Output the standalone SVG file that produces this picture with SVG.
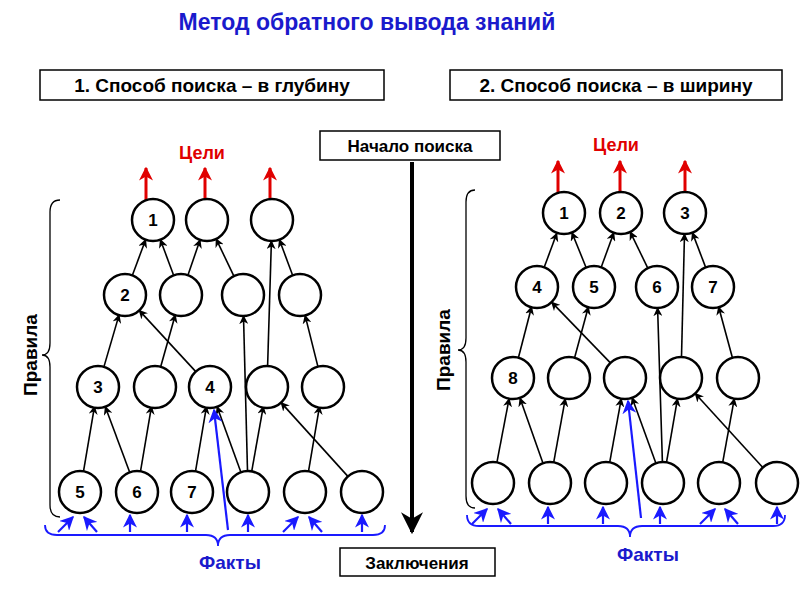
<svg xmlns="http://www.w3.org/2000/svg" width="800" height="600" viewBox="0 0 800 600">
<style>
.n circle{fill:#fff;stroke:#000;stroke-width:2.5}
.n text,.lbl{font-family:"Liberation Sans",Arial,sans-serif;font-weight:bold}
.n text{font-size:17px;text-anchor:middle}
.e line{stroke:#000;stroke-width:1.6;marker-end:url(#ah)}
.f line{stroke:#1a1aff;stroke-width:2.2;marker-end:url(#bh)}
.g line{stroke:#e00000;stroke-width:3;marker-end:url(#rh)}
.box{fill:#fff;stroke:#000;stroke-width:1.5}
.br{fill:none;stroke:#000;stroke-width:1.3}
.bb{fill:none;stroke:#1a1aff;stroke-width:1.8}
</style>
<defs>
<marker id="ah" viewBox="0 0 10 10" refX="9" refY="5" markerWidth="9" markerHeight="9" markerUnits="userSpaceOnUse" orient="auto"><path d="M0,0 L10,5 L0,10 L3,5 Z" fill="#000"/></marker>
<marker id="bh" viewBox="0 0 10 10" refX="9" refY="5" markerWidth="14" markerHeight="14" markerUnits="userSpaceOnUse" orient="auto"><path d="M0,0 L10,5 L0,10 L3,5 Z" fill="#1a1aff"/></marker>
<marker id="rh" viewBox="0 0 10 10" refX="9" refY="5" markerWidth="14" markerHeight="14" markerUnits="userSpaceOnUse" orient="auto"><path d="M0,0 L10,5 L0,10 L3,5 Z" fill="#e00000"/></marker>
<marker id="kh" viewBox="0 0 10 10" refX="9" refY="5" markerWidth="22" markerHeight="22" markerUnits="userSpaceOnUse" orient="auto"><path d="M0,0 L10,5 L0,10 L3,5 Z" fill="#000"/></marker>
</defs>
<text class="lbl" x="367" y="30" font-size="23" fill="#1a1acc" text-anchor="middle">Метод обратного вывода знаний</text>
<g id="hdr1"><rect class="box" x="40" y="70" width="344" height="30"/><text class="lbl" x="212" y="92" font-size="19" text-anchor="middle">1. Способ поиска – в глубину</text></g>
<g id="hdr2"><rect class="box" x="450" y="70" width="332" height="30"/><text class="lbl" x="616" y="92" font-size="19" text-anchor="middle">2. Способ поиска – в ширину</text></g>
<g id="start"><rect class="box" x="320" y="131" width="180" height="29"/><text class="lbl" x="410" y="152" font-size="17" text-anchor="middle">Начало поиска</text></g>
<g id="end"><rect class="box" x="340" y="548" width="155" height="28"/><text class="lbl" x="417" y="569" font-size="17" text-anchor="middle">Заключения</text></g>
<line x1="412" y1="162" x2="412" y2="532" stroke="#000" stroke-width="4" marker-end="url(#kh)"/>
<text class="lbl" x="202" y="159" font-size="18" fill="#e00000" text-anchor="middle">Цели</text>
<text class="lbl" x="616" y="151" font-size="18" fill="#e00000" text-anchor="middle">Цели</text>
<text class="lbl" x="230" y="569" font-size="19" fill="#1a1acc" text-anchor="middle">Факты</text>
<text class="lbl" x="648" y="561" font-size="19" fill="#1a1acc" text-anchor="middle">Факты</text>
<text class="lbl" font-size="19" text-anchor="middle" transform="translate(37,355) rotate(-90)">Правила</text>
<text class="lbl" font-size="19" text-anchor="middle" transform="translate(450,350) rotate(-90)">Правила</text>
<path class="br" d="M60,200 Q50,200 50,212 L50,343 Q50,355 42,355 Q50,355 50,367 L50,505 Q50,517 60,517"/>
<path class="br" d="M475,190 Q466,190 466,202 L466,338 Q466,350 458,350 Q466,350 466,362 L466,496 Q466,508 475,508"/>
<path class="bb" d="M45,525 Q45,535 57,535 L206,535 Q218,535 218,546 Q218,535 230,535 L373,535 Q385,535 385,525"/>
<path class="bb" d="M467,515 Q467,526 479,526 L618,526 Q630,526 630,537 Q630,526 642,526 L773,526 Q785,526 785,515"/>
<g id="connectors">
<g class="g">
<line x1="146" y1="200" x2="146" y2="168"/><line x1="205" y1="200" x2="205" y2="168"/><line x1="270" y1="200" x2="270" y2="168"/>
<line x1="558" y1="193" x2="558" y2="161"/><line x1="620" y1="193" x2="620" y2="161"/><line x1="685" y1="193" x2="685" y2="161"/>
</g>
<g class="e">
<line x1="132.4" y1="275.3" x2="145.6" y2="239.7"/><line x1="173.6" y1="275.3" x2="160.4" y2="239.7"/>
<line x1="187.9" y1="275.2" x2="200.1" y2="239.8"/><line x1="233.9" y1="276.1" x2="216.1" y2="238.9"/>
<line x1="267.6" y1="366" x2="271.4" y2="241"/><line x1="292.6" y1="275.3" x2="279.4" y2="239.7"/>
<line x1="103.9" y1="366.9" x2="119.1" y2="314.9"/><line x1="195.8" y1="371.6" x2="139.2" y2="310.4"/>
<line x1="160.7" y1="366.8" x2="175.3" y2="314.8"/><line x1="247.5" y1="471" x2="243.5" y2="316"/>
<line x1="317.9" y1="366.6" x2="305.1" y2="315.4"/><line x1="83.5" y1="471.3" x2="94.5" y2="406.3"/>
<line x1="129.7" y1="472.3" x2="105.3" y2="406.7"/><line x1="140.5" y1="471.3" x2="151.5" y2="406.3"/>
<line x1="195.5" y1="471.3" x2="206.5" y2="406.3"/><line x1="240.9" y1="472.3" x2="217.1" y2="406.7"/>
<line x1="251.7" y1="471.3" x2="263.3" y2="406.3"/><line x1="347.9" y1="476.4" x2="281.1" y2="402.6"/>
<line x1="308.5" y1="471.3" x2="319.5" y2="406.3"/>
<line x1="544.2" y1="267.3" x2="556.8" y2="233.3"/><line x1="586.1" y1="267.5" x2="571.9" y2="232.5"/>
<line x1="601.2" y1="267.3" x2="613.8" y2="232.7"/><line x1="647.8" y1="268.1" x2="630.2" y2="231.9"/>
<line x1="681.5" y1="357" x2="684.5" y2="234"/><line x1="705.6" y1="267.4" x2="692.4" y2="232.6"/>
<line x1="518.4" y1="357.7" x2="531.6" y2="306.7"/><line x1="610.4" y1="362.9" x2="551.6" y2="302.1"/>
<line x1="574.6" y1="357.8" x2="588.4" y2="306.8"/><line x1="662.4" y1="462" x2="657.6" y2="308"/>
<line x1="732.4" y1="357.8" x2="718.6" y2="306.8"/><line x1="496.9" y1="462.4" x2="509.1" y2="398.6"/>
<line x1="543" y1="463.2" x2="520" y2="398.2"/><line x1="553.7" y1="462.3" x2="565.3" y2="398.7"/>
<line x1="609.7" y1="462.3" x2="621.3" y2="398.7"/><line x1="655.9" y1="463.3" x2="632.1" y2="397.7"/>
<line x1="666.5" y1="462.3" x2="677.5" y2="398.7"/><line x1="762.8" y1="467.5" x2="695.2" y2="393.5"/>
<line x1="722.7" y1="462.3" x2="734.3" y2="398.7"/>
</g>
<g class="f">
<line x1="58" y1="532" x2="73" y2="517"/><line x1="97" y1="532" x2="84" y2="517"/>
<line x1="130" y1="532" x2="130" y2="515"/><line x1="187" y1="532" x2="187" y2="515"/>
<line x1="248" y1="532" x2="248" y2="515"/><line x1="283" y1="532" x2="298" y2="517"/>
<line x1="322" y1="532" x2="309" y2="517"/><line x1="362" y1="532" x2="362" y2="515"/>
<line x1="472" y1="524" x2="487" y2="509"/><line x1="511" y1="524" x2="498" y2="509"/>
<line x1="548" y1="524" x2="548" y2="507"/><line x1="603" y1="524" x2="603" y2="507"/>
<line x1="660" y1="524" x2="660" y2="507"/><line x1="700" y1="524" x2="715" y2="509"/>
<line x1="738" y1="524" x2="725" y2="509"/><line x1="777" y1="524" x2="777" y2="507"/>
<line x1="228" y1="530" x2="214" y2="410" stroke-width="3"/>
<line x1="641" y1="518" x2="628" y2="401" stroke-width="3"/>
</g>
</g>
<g id="L1a" class="n"><circle cx="153" cy="220" r="21"/><text x="153" y="226">1</text></g>
<g id="L1b" class="n"><circle cx="207" cy="220" r="21"/></g>
<g id="L1c" class="n"><circle cx="272" cy="220" r="21"/></g>
<g id="L2a" class="n"><circle cx="125" cy="295" r="21"/><text x="125" y="301">2</text></g>
<g id="L2b" class="n"><circle cx="181" cy="295" r="21"/></g>
<g id="L2c" class="n"><circle cx="243" cy="295" r="21"/></g>
<g id="L2d" class="n"><circle cx="300" cy="295" r="21"/></g>
<g id="L3a" class="n"><circle cx="98" cy="387" r="21"/><text x="98" y="393">3</text></g>
<g id="L3b" class="n"><circle cx="155" cy="387" r="21"/></g>
<g id="L3c" class="n"><circle cx="210" cy="387" r="21"/><text x="210" y="393">4</text></g>
<g id="L3d" class="n"><circle cx="267" cy="387" r="21"/></g>
<g id="L3e" class="n"><circle cx="323" cy="387" r="21"/></g>
<g id="L4a" class="n"><circle cx="80" cy="492" r="21"/><text x="80" y="498">5</text></g>
<g id="L4b" class="n"><circle cx="137" cy="492" r="21"/><text x="137" y="498">6</text></g>
<g id="L4c" class="n"><circle cx="192" cy="492" r="21"/><text x="192" y="498">7</text></g>
<g id="L4d" class="n"><circle cx="248" cy="492" r="21"/></g>
<g id="L4e" class="n"><circle cx="305" cy="492" r="21"/></g>
<g id="L4f" class="n"><circle cx="362" cy="492" r="21"/></g>
<g id="R1a" class="n"><circle cx="564" cy="213" r="21"/><text x="564" y="219">1</text></g>
<g id="R1b" class="n"><circle cx="621" cy="213" r="21"/><text x="621" y="219">2</text></g>
<g id="R1c" class="n"><circle cx="685" cy="213" r="21"/><text x="685" y="219">3</text></g>
<g id="R2a" class="n"><circle cx="537" cy="287" r="21"/><text x="537" y="293">4</text></g>
<g id="R2b" class="n"><circle cx="594" cy="287" r="21"/><text x="594" y="293">5</text></g>
<g id="R2c" class="n"><circle cx="657" cy="287" r="21"/><text x="657" y="293">6</text></g>
<g id="R2d" class="n"><circle cx="713" cy="287" r="21"/><text x="713" y="293">7</text></g>
<g id="R3a" class="n"><circle cx="513" cy="378" r="21"/><text x="513" y="384">8</text></g>
<g id="R3b" class="n"><circle cx="569" cy="378" r="21"/></g>
<g id="R3c" class="n"><circle cx="625" cy="378" r="21"/></g>
<g id="R3d" class="n"><circle cx="681" cy="378" r="21"/></g>
<g id="R3e" class="n"><circle cx="738" cy="378" r="21"/></g>
<g id="R4a" class="n"><circle cx="493" cy="483" r="21"/></g>
<g id="R4b" class="n"><circle cx="550" cy="483" r="21"/></g>
<g id="R4c" class="n"><circle cx="606" cy="483" r="21"/></g>
<g id="R4d" class="n"><circle cx="663" cy="483" r="21"/></g>
<g id="R4e" class="n"><circle cx="719" cy="483" r="21"/></g>
<g id="R4f" class="n"><circle cx="777" cy="483" r="21"/></g>
</svg>
